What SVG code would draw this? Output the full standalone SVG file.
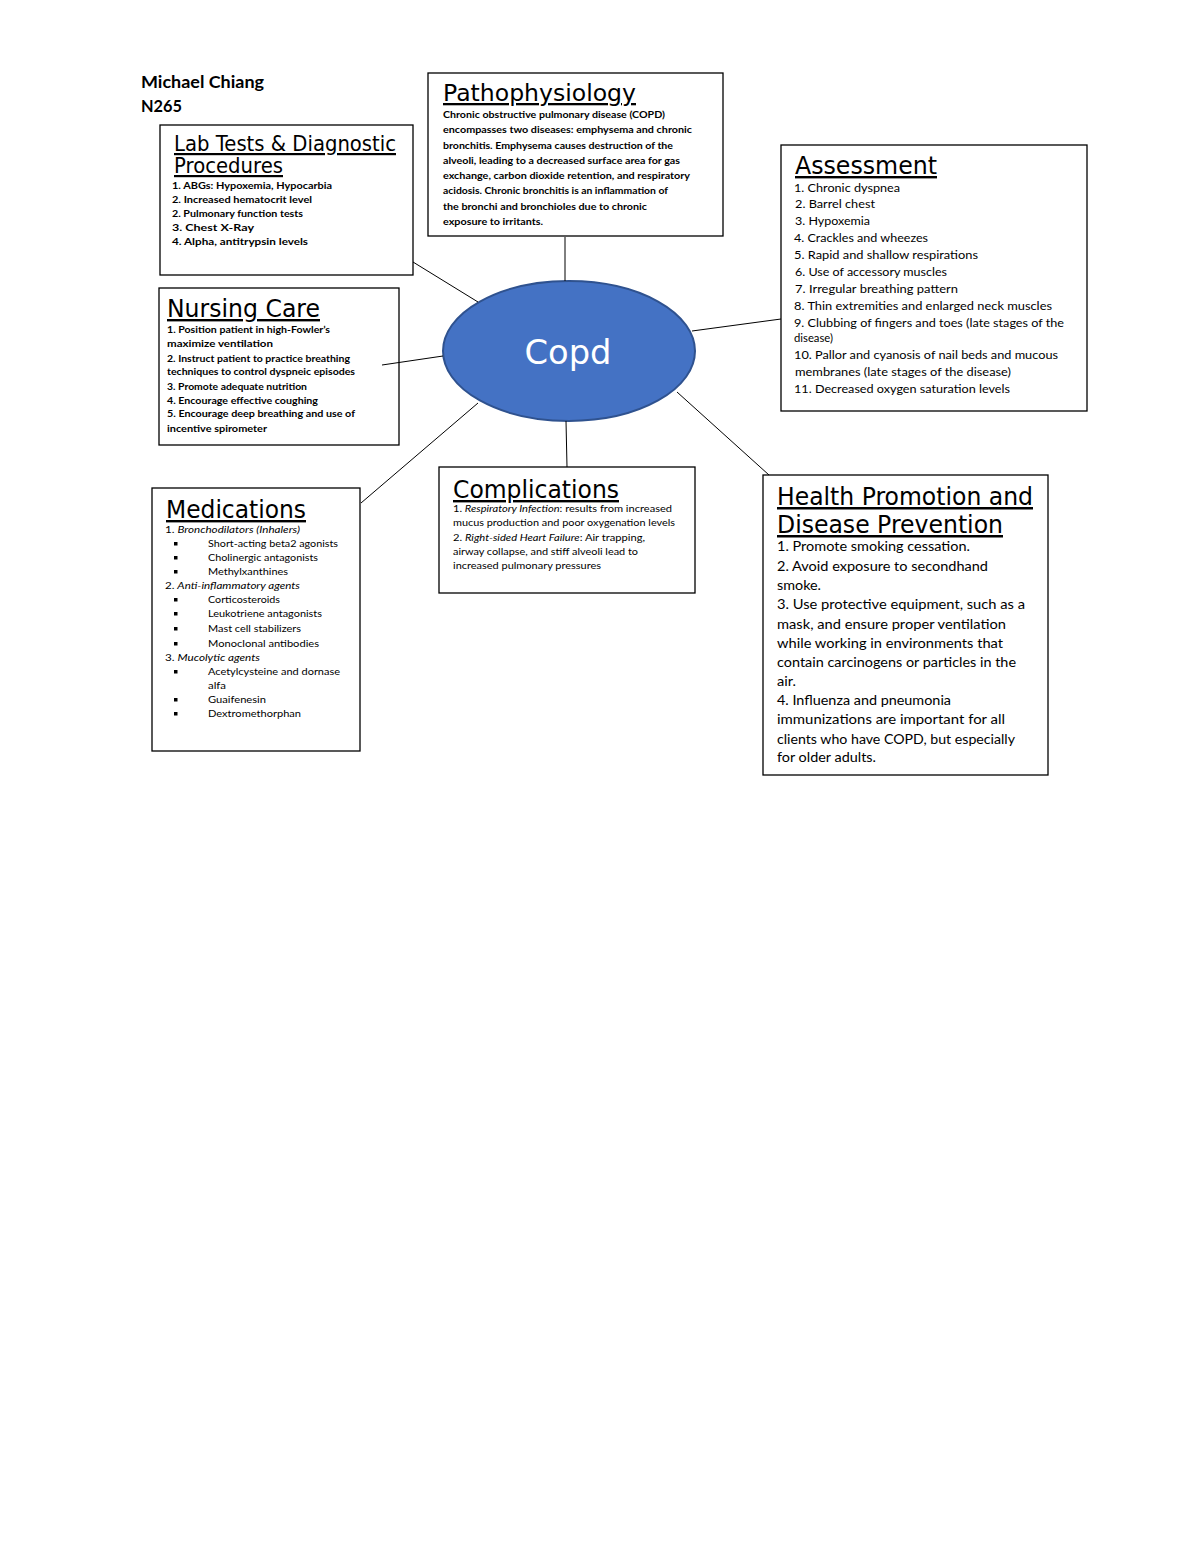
<svg xmlns="http://www.w3.org/2000/svg" width="1200" height="1553" viewBox="0 0 1200 1553">
<style>
.box{fill:#fff;stroke:#000;stroke-width:1.3}
.conn line{stroke:#000;stroke-width:1}
.h{font-family:"DejaVu Sans",Verdana,sans-serif;text-decoration:underline;fill:#000}
.t{font-family:Lato,"Open Sans",sans-serif;fill:#000}
.s{font-size:9.5px}
.bd{font-weight:bold}
.m{font-size:11.5px}
.l{font-size:12.5px}
.bul{fill:#000}
</style>
<rect width="1200" height="1553" fill="#fff"/>
<g id="author">
<text class="t bd" x="141" y="88" font-size="17" textLength="123" lengthAdjust="spacingAndGlyphs">Michael Chiang</text>
<text class="t bd" x="141" y="112" font-size="17" textLength="41" lengthAdjust="spacingAndGlyphs">N265</text>
</g>
<g id="copd">
<ellipse cx="569" cy="351" rx="126" ry="70" fill="#4472C4" stroke="#2F528F" stroke-width="2"/>
<text x="568" y="364" font-family="DejaVu Sans,Verdana,sans-serif" font-size="34" fill="#fff" text-anchor="middle" textLength="87" lengthAdjust="spacingAndGlyphs">Copd</text>
</g>
<g id="lab">
<rect class="box" x="160" y="125" width="253" height="150"/>
<text class="h" x="174" y="151" font-size="22" textLength="222" lengthAdjust="spacingAndGlyphs">Lab Tests &amp; Diagnostic</text>
<text class="h" x="174" y="173" font-size="22" textLength="109" lengthAdjust="spacingAndGlyphs">Procedures</text>
<g class="t s bd">
<text x="172" y="189" textLength="160" lengthAdjust="spacingAndGlyphs">1. ABGs:  Hypoxemia, Hypocarbia</text>
<text x="172" y="203" textLength="140" lengthAdjust="spacingAndGlyphs">2. Increased hematocrit level</text>
<text x="172" y="217" textLength="131" lengthAdjust="spacingAndGlyphs">2. Pulmonary function tests</text>
<text x="172" y="231" textLength="82" lengthAdjust="spacingAndGlyphs">3. Chest X-Ray</text>
<text x="172" y="245" textLength="136" lengthAdjust="spacingAndGlyphs">4. Alpha, antitrypsin levels</text>
</g>
</g>
<g id="pathophysiology">
<rect class="box" x="428" y="73" width="295" height="163"/>
<text class="h" x="443" y="101" font-size="23" textLength="193" lengthAdjust="spacingAndGlyphs">Pathophysiology</text>
<g class="t s bd">
<text x="443" y="118" textLength="222" lengthAdjust="spacingAndGlyphs">Chronic obstructive pulmonary disease (COPD)</text>
<text x="443" y="133" textLength="249" lengthAdjust="spacingAndGlyphs">encompasses two diseases: emphysema and chronic</text>
<text x="443" y="149" textLength="230" lengthAdjust="spacingAndGlyphs">bronchitis. Emphysema causes destruction of the</text>
<text x="443" y="164" textLength="237" lengthAdjust="spacingAndGlyphs">alveoli, leading to a decreased surface area for gas</text>
<text x="443" y="179" textLength="247" lengthAdjust="spacingAndGlyphs">exchange, carbon dioxide retention, and respiratory</text>
<text x="443" y="194" textLength="225" lengthAdjust="spacingAndGlyphs">acidosis. Chronic bronchitis is an inflammation of</text>
<text x="443" y="210" textLength="204" lengthAdjust="spacingAndGlyphs">the bronchi and bronchioles due to chronic</text>
<text x="443" y="225" textLength="100" lengthAdjust="spacingAndGlyphs">exposure to irritants.</text>
</g>
</g>
<g id="assessment">
<rect class="box" x="781" y="145" width="306" height="266"/>
<text class="h" x="795" y="174" font-size="24" textLength="142" lengthAdjust="spacingAndGlyphs">Assessment</text>
<g class="t m">
<text x="794" y="192" textLength="106" lengthAdjust="spacingAndGlyphs">1. Chronic dyspnea</text>
<text x="795" y="208" textLength="80" lengthAdjust="spacingAndGlyphs">2. Barrel chest</text>
<text x="795" y="225" textLength="75" lengthAdjust="spacingAndGlyphs">3. Hypoxemia</text>
<text x="794" y="242" textLength="134" lengthAdjust="spacingAndGlyphs">4. Crackles and wheezes</text>
<text x="794" y="259" textLength="184" lengthAdjust="spacingAndGlyphs">5. Rapid and shallow respirations</text>
<text x="795" y="276" textLength="152" lengthAdjust="spacingAndGlyphs">6. Use of accessory muscles</text>
<text x="795" y="293" textLength="163" lengthAdjust="spacingAndGlyphs">7. Irregular breathing pattern</text>
<text x="794" y="310" textLength="258" lengthAdjust="spacingAndGlyphs">8. Thin extremities and enlarged neck muscles</text>
<text x="794" y="327" textLength="270" lengthAdjust="spacingAndGlyphs">9. Clubbing of fingers and toes (late stages of the</text>
<text x="794" y="342" textLength="39" lengthAdjust="spacingAndGlyphs">disease)</text>
<text x="794" y="359" textLength="264" lengthAdjust="spacingAndGlyphs">10. Pallor and cyanosis of nail beds and mucous</text>
<text x="795" y="376" textLength="216" lengthAdjust="spacingAndGlyphs">membranes (late stages of the disease)</text>
<text x="794" y="393" textLength="216" lengthAdjust="spacingAndGlyphs">11. Decreased oxygen saturation levels</text>
</g>
</g>
<g id="nursing">
<rect class="box" x="159" y="288" width="240" height="157"/>
<text class="h" x="167" y="317" font-size="24" textLength="153" lengthAdjust="spacingAndGlyphs">Nursing Care</text>
<g class="t s bd">
<text x="167" y="333" textLength="163" lengthAdjust="spacingAndGlyphs">1. Position patient in high-Fowler’s</text>
<text x="167" y="347" textLength="106" lengthAdjust="spacingAndGlyphs">maximize ventilation</text>
<text x="167" y="362" textLength="183" lengthAdjust="spacingAndGlyphs">2. Instruct patient to practice breathing</text>
<text x="167" y="375" textLength="188" lengthAdjust="spacingAndGlyphs">techniques to control dyspneic episodes</text>
<text x="167" y="390" textLength="140" lengthAdjust="spacingAndGlyphs">3. Promote adequate nutrition</text>
<text x="167" y="404" textLength="151" lengthAdjust="spacingAndGlyphs">4. Encourage effective coughing</text>
<text x="167" y="417" textLength="188" lengthAdjust="spacingAndGlyphs">5. Encourage deep breathing and use of</text>
<text x="167" y="432" textLength="100" lengthAdjust="spacingAndGlyphs">incentive spirometer</text>
</g>
</g>
<g id="medications">
<rect class="box" x="152" y="488" width="208" height="263"/>
<text class="h" x="166" y="518" font-size="24" textLength="140" lengthAdjust="spacingAndGlyphs">Medications</text>
<g class="t s">
<text x="165" y="533" textLength="135" lengthAdjust="spacingAndGlyphs">1. <tspan font-style="italic">Bronchodilators (Inhalers)</tspan></text>
<text x="208" y="547" textLength="130" lengthAdjust="spacingAndGlyphs">Short-acting beta2 agonists</text>
<text x="208" y="561" textLength="110" lengthAdjust="spacingAndGlyphs">Cholinergic antagonists</text>
<text x="208" y="575" textLength="80" lengthAdjust="spacingAndGlyphs">Methylxanthines</text>
<text x="165" y="589" textLength="135" lengthAdjust="spacingAndGlyphs">2. <tspan font-style="italic">Anti-inflammatory agents</tspan></text>
<text x="208" y="603" textLength="72" lengthAdjust="spacingAndGlyphs">Corticosteroids</text>
<text x="208" y="617" textLength="114" lengthAdjust="spacingAndGlyphs">Leukotriene antagonists</text>
<text x="208" y="632" textLength="93" lengthAdjust="spacingAndGlyphs">Mast cell stabilizers</text>
<text x="208" y="647" textLength="111" lengthAdjust="spacingAndGlyphs">Monoclonal antibodies</text>
<text x="165" y="661" textLength="95" lengthAdjust="spacingAndGlyphs">3. <tspan font-style="italic">Mucolytic agents</tspan></text>
<text x="208" y="675" textLength="132" lengthAdjust="spacingAndGlyphs">Acetylcysteine and dornase</text>
<text x="208" y="689" textLength="18" lengthAdjust="spacingAndGlyphs">alfa</text>
<text x="208" y="703" textLength="58" lengthAdjust="spacingAndGlyphs">Guaifenesin</text>
<text x="208" y="717" textLength="93" lengthAdjust="spacingAndGlyphs">Dextromethorphan</text>
</g>
<g class="bul">
<rect x="174" y="542" width="3.5" height="3.5"/>
<rect x="174" y="556" width="3.5" height="3.5"/>
<rect x="174" y="570" width="3.5" height="3.5"/>
<rect x="174" y="598" width="3.5" height="3.5"/>
<rect x="174" y="612" width="3.5" height="3.5"/>
<rect x="174" y="627" width="3.5" height="3.5"/>
<rect x="174" y="642" width="3.5" height="3.5"/>
<rect x="174" y="670" width="3.5" height="3.5"/>
<rect x="174" y="698" width="3.5" height="3.5"/>
<rect x="174" y="712" width="3.5" height="3.5"/>
</g>
</g>
<g id="complications">
<rect class="box" x="439" y="467" width="256" height="126"/>
<text class="h" x="453" y="498" font-size="24" textLength="166" lengthAdjust="spacingAndGlyphs">Complications</text>
<g class="t s">
<text x="453" y="512" textLength="219" lengthAdjust="spacingAndGlyphs">1. <tspan font-style="italic">Respiratory Infection</tspan>: results from increased</text>
<text x="453" y="526" textLength="222" lengthAdjust="spacingAndGlyphs">mucus production and poor oxygenation levels</text>
<text x="453" y="541" textLength="192" lengthAdjust="spacingAndGlyphs">2. <tspan font-style="italic">Right-sided Heart Failure</tspan>: Air trapping,</text>
<text x="453" y="555" textLength="185" lengthAdjust="spacingAndGlyphs">airway collapse, and stiff alveoli lead to</text>
<text x="453" y="569" textLength="148" lengthAdjust="spacingAndGlyphs">increased pulmonary pressures</text>
</g>
</g>
<g id="health">
<rect class="box" x="763" y="475" width="285" height="300"/>
<text class="h" x="777" y="505" font-size="25" textLength="256" lengthAdjust="spacingAndGlyphs">Health Promotion and</text>
<text class="h" x="777" y="533" font-size="25" textLength="226" lengthAdjust="spacingAndGlyphs">Disease Prevention</text>
<g class="t l">
<text x="777" y="551" textLength="193" lengthAdjust="spacingAndGlyphs">1. Promote smoking cessation.</text>
<text x="777" y="571" textLength="211" lengthAdjust="spacingAndGlyphs">2. Avoid exposure to secondhand</text>
<text x="777" y="590" textLength="44" lengthAdjust="spacingAndGlyphs">smoke.</text>
<text x="777" y="609" textLength="248" lengthAdjust="spacingAndGlyphs">3. Use protective equipment, such as a</text>
<text x="777" y="629" textLength="229" lengthAdjust="spacingAndGlyphs">mask, and ensure proper ventilation</text>
<text x="777" y="648" textLength="226" lengthAdjust="spacingAndGlyphs">while working in environments that</text>
<text x="777" y="667" textLength="239" lengthAdjust="spacingAndGlyphs">contain carcinogens or particles in the</text>
<text x="777" y="686" textLength="19" lengthAdjust="spacingAndGlyphs">air.</text>
<text x="777" y="705" textLength="174" lengthAdjust="spacingAndGlyphs">4. Influenza and pneumonia</text>
<text x="777" y="724" textLength="228" lengthAdjust="spacingAndGlyphs">immunizations are important for all</text>
<text x="777" y="744" textLength="238" lengthAdjust="spacingAndGlyphs">clients who have COPD, but especially</text>
<text x="777" y="762" textLength="99" lengthAdjust="spacingAndGlyphs">for older adults.</text>
</g>
</g>
<g class="conn" id="connectors">
<line x1="413" y1="262" x2="478" y2="302"/>
<line x1="565" y1="237" x2="565" y2="281"/>
<line x1="382" y1="365" x2="443" y2="356"/>
<line x1="692" y1="331" x2="781" y2="319"/>
<line x1="361" y1="503" x2="478" y2="403"/>
<line x1="566" y1="421" x2="567" y2="467"/>
<line x1="677" y1="392" x2="769" y2="475"/>
</g>
</svg>
